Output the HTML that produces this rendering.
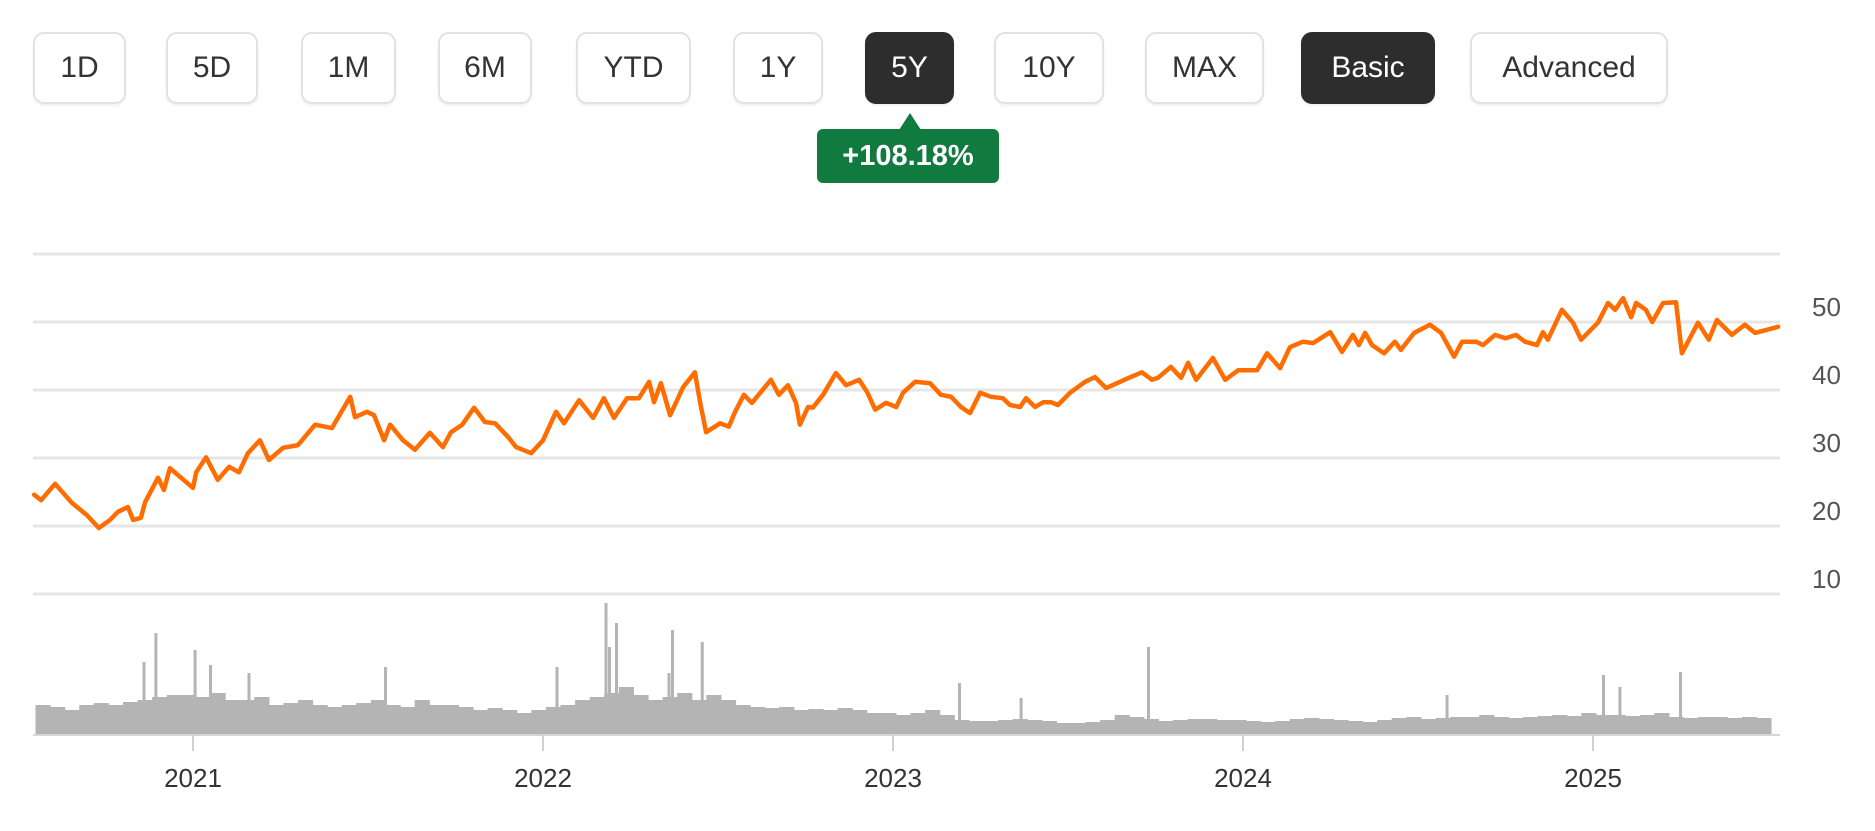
<!DOCTYPE html>
<html><head><meta charset="utf-8"><style>
html,body{margin:0;padding:0;background:#fff;width:1875px;height:831px;overflow:hidden;font-family:"Liberation Sans",Arial,sans-serif}
.btn{position:absolute;top:32px;height:72px;box-sizing:border-box;border:2px solid #e2e2e2;border-radius:11px;background:#fff;color:#333;font-size:30px;display:flex;align-items:center;justify-content:center;box-shadow:0 2px 2px rgba(0,0,0,0.06)}
.btn.on{background:#2d2d2d;border-color:#2d2d2d;color:#fff}
#badge{position:absolute;left:817px;top:129px;width:182px;height:54px;background:#117a3f;border-radius:6px;color:#fff;font-weight:bold;font-size:29px;display:flex;align-items:center;justify-content:center}
#arrow{position:absolute;left:899px;top:113px;width:0;height:0;border-left:11px solid transparent;border-right:11px solid transparent;border-bottom:17px solid #117a3f}
svg{position:absolute;left:0;top:0}
</style></head><body>
<div class="btn" style="left:33px;width:93px">1D</div>
<div class="btn" style="left:166px;width:92px">5D</div>
<div class="btn" style="left:301px;width:95px">1M</div>
<div class="btn" style="left:438px;width:94px">6M</div>
<div class="btn" style="left:576px;width:115px">YTD</div>
<div class="btn" style="left:733px;width:90px">1Y</div>
<div class="btn on" style="left:865px;width:89px">5Y</div>
<div class="btn" style="left:994px;width:110px">10Y</div>
<div class="btn" style="left:1145px;width:119px">MAX</div>
<div class="btn on" style="left:1301px;width:134px">Basic</div>
<div class="btn" style="left:1470px;width:198px">Advanced</div>
<div id="arrow"></div>
<div id="badge">+108.18%</div>
<svg id="chart" width="1875" height="831"></svg>
<script>
const priceT=[2020.546,2020.566,2020.606,2020.654,2020.697,2020.731,2020.763,2020.786,2020.814,2020.829,2020.851,2020.863,2020.900,2020.917,2020.934,2021.000,2021.009,2021.037,2021.071,2021.103,2021.131,2021.157,2021.191,2021.217,2021.257,2021.300,2021.349,2021.397,2021.449,2021.463,2021.497,2021.517,2021.546,2021.563,2021.600,2021.634,2021.677,2021.714,2021.737,2021.769,2021.803,2021.834,2021.863,2021.900,2021.923,2021.966,2022.000,2022.037,2022.060,2022.103,2022.143,2022.174,2022.203,2022.240,2022.274,2022.303,2022.317,2022.337,2022.363,2022.383,2022.400,2022.434,2022.449,2022.466,2022.506,2022.531,2022.549,2022.574,2022.597,2022.651,2022.674,2022.700,2022.723,2022.734,2022.757,2022.771,2022.800,2022.837,2022.866,2022.903,2022.926,2022.949,2022.980,2023.009,2023.029,2023.063,2023.106,2023.137,2023.166,2023.194,2023.220,2023.249,2023.280,2023.314,2023.334,2023.363,2023.380,2023.406,2023.429,2023.451,2023.471,2023.506,2023.549,2023.577,2023.609,2023.640,2023.674,2023.711,2023.740,2023.757,2023.794,2023.823,2023.843,2023.866,2023.914,2023.949,2023.986,2024.040,2024.069,2024.106,2024.134,2024.171,2024.200,2024.249,2024.283,2024.314,2024.331,2024.349,2024.369,2024.403,2024.434,2024.451,2024.489,2024.534,2024.566,2024.603,2024.626,2024.666,2024.686,2024.720,2024.751,2024.780,2024.806,2024.840,2024.857,2024.871,2024.911,2024.943,2024.966,2025.014,2025.043,2025.063,2025.086,2025.109,2025.123,2025.151,2025.169,2025.200,2025.237,2025.254,2025.300,2025.331,2025.354,2025.397,2025.434,2025.463,2025.529];
const priceV=[24.6,23.8,26.2,23.4,21.6,19.7,20.9,22.1,22.8,20.9,21.2,23.5,27.1,25.3,28.5,25.6,27.9,30.1,26.8,28.7,27.9,30.7,32.6,29.7,31.5,31.9,34.9,34.4,39.0,36.0,36.8,36.3,32.6,34.9,32.6,31.2,33.7,31.6,33.8,34.9,37.4,35.3,35.1,33.1,31.6,30.7,32.6,36.8,35.1,38.5,35.9,38.8,35.9,38.8,38.8,41.2,38.2,41.0,36.3,38.5,40.4,42.6,38.1,33.8,35.1,34.6,36.8,39.3,38.1,41.5,39.3,40.7,38.1,34.9,37.5,37.4,39.3,42.5,40.7,41.5,39.7,37.1,38.1,37.5,39.6,41.2,41.0,39.3,39.0,37.5,36.6,39.6,39.0,38.8,37.8,37.5,38.8,37.5,38.2,38.2,37.8,39.6,41.2,41.9,40.3,41.0,41.8,42.6,41.5,41.8,43.4,41.8,44.0,41.5,44.7,41.5,42.9,42.9,45.4,43.2,46.3,47.1,46.9,48.5,45.6,48.1,46.6,48.4,46.6,45.4,47.1,45.9,48.4,49.6,48.4,44.9,47.1,47.1,46.6,48.1,47.6,48.1,47.1,46.6,48.5,47.4,51.8,49.9,47.4,49.9,52.8,51.8,53.5,50.7,52.8,51.8,50.0,52.8,52.9,45.4,49.9,47.4,50.3,48.1,49.6,48.4,49.3];
const volStart=2020.55;
const volStep=1/24;
const volumes=[30,28,25,30,32,30,33,35,38,40,
40,38,42,35,35,38,30,32,35,30,28,30,32,35,30,28,35,30,30,28,25,27,25,22,
25,28,30,35,38,42,48,40,35,38,42,35,40,35,30,28,27,28,25,26,25,27,25,22,
22,20,22,25,20,15,14,14,15,16,15,14,12,12,13,15,20,18,16,14,15,16,16,15,
15,14,13,14,16,17,16,15,14,13,15,17,18,16,17,18,18,20,18,17,18,19,20,19,
22,20,20,19,20,22,18,17,18,18,17,18,17];
const spikeT=[2020.86,2020.894,2021.006,2021.05,2021.16,2021.55,2022.04,2022.18,2022.19,2022.21,2022.36,2022.37,2022.455,2023.19,2023.366,2023.73,2024.583,2025.03,2025.077,2025.25];
const spikeV=[73,102,85,70,62,68,68,132,88,112,62,105,93,52,37,88,40,60,48,63];
const yTicks=[10,20,30,40,50];
const gridVals=[10,20,30,40,50,60];
const years=[2021,2022,2023,2024,2025];

const NS="http://www.w3.org/2000/svg";
const svg=document.getElementById('chart');
const X0=33,X1=1780,VB=735;
function xs(t){return 193+(t-2021)*350;}
function ys(v){return 390-(v-40)*6.8;}
function yv(v){return VB-v;}
function mk(tag,attrs){const e=document.createElementNS(NS,tag);for(const k in attrs)e.setAttribute(k,attrs[k]);svg.appendChild(e);return e;}

gridVals.forEach(v=>{
  const l=mk('line',{x1:X0,x2:X1,y1:ys(v),y2:ys(v),stroke:'#e6e6e6','stroke-width':3});
  
  
});
yTicks.forEach(v=>{
  const t=mk('text',{x:1812,y:ys(v)-6,'font-size':26,fill:'#555','font-family':'Liberation Sans, sans-serif'});
  t.textContent=String(v);
  
  
});
const bw=volStep*350;
volumes.forEach((v,i)=>{
  const x=xs(volStart+i*volStep);
  if(x>X1)return;
  const w=Math.min(bw+0.6,X1-x);
  const r=mk('rect',{x:x,y:yv(v),width:w,height:v,fill:'#b4b4b4'});
  
  
});
spikeT.forEach((t,i)=>{
  const r=mk('rect',{x:xs(t)-1.5,y:yv(spikeV[i]),width:3,height:spikeV[i],fill:'#b4b4b4'});
  
  
});
const base=mk('line',{x1:X0,x2:X1,y1:VB,y2:VB,stroke:'#d6d6d6','stroke-width':2});


years.forEach(y=>{
  const tk=mk('line',{x1:xs(y),x2:xs(y),y1:VB,y2:VB+16,stroke:'#d0d0d0','stroke-width':2});
  
  
  const t=mk('text',{x:xs(y),y:787,'font-size':26,fill:'#333','text-anchor':'middle','font-family':'Liberation Sans, sans-serif'});
  t.textContent=String(y);
  
  
});
let d='';
priceT.forEach((t,i)=>{d+=(i?'L':'M')+xs(t).toFixed(1)+','+ys(priceV[i]).toFixed(1);});
const p=mk('path',{d:d,fill:'none',stroke:'#ff6d00','stroke-width':4.5,'stroke-linejoin':'round','stroke-linecap':'round'});


</script>
</body></html>
